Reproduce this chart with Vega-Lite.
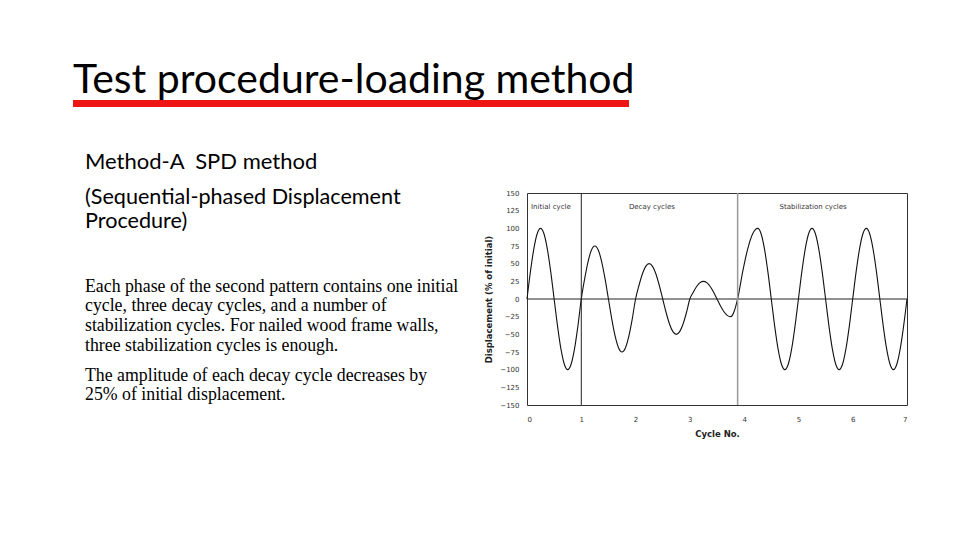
{
  "$schema": "https://vega.github.io/schema/vega-lite/v6.json",
  "background": "white",
  "padding": {"left": 73, "top": 59, "right": 5, "bottom": 5},
  "config": {"view": {"stroke": null}, "axis": {"labelOverlap": false, "labelBound": false}},
  "datasets": {
    "curve": [
      {"cycle": 0, "disp": 0}, {"cycle": 0.0625, "disp": 38.3}, {"cycle": 0.125, "disp": 70.7}, {"cycle": 0.1875, "disp": 92.4},
      {"cycle": 0.25, "disp": 100}, {"cycle": 0.3125, "disp": 92.4}, {"cycle": 0.375, "disp": 70.7}, {"cycle": 0.4375, "disp": 38.3},
      {"cycle": 0.5, "disp": 0}, {"cycle": 0.5625, "disp": -38.3}, {"cycle": 0.625, "disp": -70.7}, {"cycle": 0.6875, "disp": -92.4},
      {"cycle": 0.75, "disp": -100}, {"cycle": 0.8125, "disp": -92.4}, {"cycle": 0.875, "disp": -70.7}, {"cycle": 0.9375, "disp": -38.3},
      {"cycle": 1, "disp": 0}, {"cycle": 1.0625, "disp": 28.7}, {"cycle": 1.125, "disp": 53}, {"cycle": 1.1875, "disp": 69.3},
      {"cycle": 1.25, "disp": 75}, {"cycle": 1.3125, "disp": 69.3}, {"cycle": 1.375, "disp": 53}, {"cycle": 1.4375, "disp": 28.7},
      {"cycle": 1.5, "disp": 0}, {"cycle": 1.5625, "disp": -28.7}, {"cycle": 1.625, "disp": -53}, {"cycle": 1.6875, "disp": -69.3},
      {"cycle": 1.75, "disp": -75}, {"cycle": 1.8125, "disp": -69.3}, {"cycle": 1.875, "disp": -53}, {"cycle": 1.9375, "disp": -28.7},
      {"cycle": 2, "disp": 0}, {"cycle": 2.0625, "disp": 19.1}, {"cycle": 2.125, "disp": 35.4}, {"cycle": 2.1875, "disp": 46.2},
      {"cycle": 2.25, "disp": 50}, {"cycle": 2.3125, "disp": 46.2}, {"cycle": 2.375, "disp": 35.4}, {"cycle": 2.4375, "disp": 19.1},
      {"cycle": 2.5, "disp": 0}, {"cycle": 2.5625, "disp": -19.1}, {"cycle": 2.625, "disp": -35.4}, {"cycle": 2.6875, "disp": -46.2},
      {"cycle": 2.75, "disp": -50}, {"cycle": 2.8125, "disp": -46.2}, {"cycle": 2.875, "disp": -35.4}, {"cycle": 2.9375, "disp": -19.1},
      {"cycle": 3, "disp": 0}, {"cycle": 3.0625, "disp": 9.6}, {"cycle": 3.125, "disp": 17.7}, {"cycle": 3.1875, "disp": 23.1},
      {"cycle": 3.25, "disp": 25}, {"cycle": 3.3125, "disp": 23.1}, {"cycle": 3.375, "disp": 17.7}, {"cycle": 3.4375, "disp": 9.6},
      {"cycle": 3.5, "disp": 0}, {"cycle": 3.5625, "disp": -9.6}, {"cycle": 3.625, "disp": -17.7}, {"cycle": 3.6875, "disp": -23.1},
      {"cycle": 3.75, "disp": -25}, {"cycle": 3.7825, "disp": -23.1}, {"cycle": 3.815, "disp": -17.7}, {"cycle": 3.8475, "disp": -9.6},
      {"cycle": 3.88, "disp": 0}, {"cycle": 3.9725, "disp": 38.3}, {"cycle": 4.065, "disp": 70.7}, {"cycle": 4.1575, "disp": 92.4},
      {"cycle": 4.25, "disp": 100}, {"cycle": 4.3125, "disp": 92.4}, {"cycle": 4.375, "disp": 70.7}, {"cycle": 4.4375, "disp": 38.3},
      {"cycle": 4.5, "disp": 0}, {"cycle": 4.5625, "disp": -38.3}, {"cycle": 4.625, "disp": -70.7}, {"cycle": 4.6875, "disp": -92.4},
      {"cycle": 4.75, "disp": -100}, {"cycle": 4.8125, "disp": -92.4}, {"cycle": 4.875, "disp": -70.7}, {"cycle": 4.9375, "disp": -38.3},
      {"cycle": 5, "disp": 0}, {"cycle": 5.0625, "disp": 38.3}, {"cycle": 5.125, "disp": 70.7}, {"cycle": 5.1875, "disp": 92.4},
      {"cycle": 5.25, "disp": 100}, {"cycle": 5.3125, "disp": 92.4}, {"cycle": 5.375, "disp": 70.7}, {"cycle": 5.4375, "disp": 38.3},
      {"cycle": 5.5, "disp": 0}, {"cycle": 5.5625, "disp": -38.3}, {"cycle": 5.625, "disp": -70.7}, {"cycle": 5.6875, "disp": -92.4},
      {"cycle": 5.75, "disp": -100}, {"cycle": 5.8125, "disp": -92.4}, {"cycle": 5.875, "disp": -70.7}, {"cycle": 5.9375, "disp": -38.3},
      {"cycle": 6, "disp": 0}, {"cycle": 6.0625, "disp": 38.3}, {"cycle": 6.125, "disp": 70.7}, {"cycle": 6.1875, "disp": 92.4},
      {"cycle": 6.25, "disp": 100}, {"cycle": 6.3125, "disp": 92.4}, {"cycle": 6.375, "disp": 70.7}, {"cycle": 6.4375, "disp": 38.3},
      {"cycle": 6.5, "disp": 0}, {"cycle": 6.5625, "disp": -38.3}, {"cycle": 6.625, "disp": -70.7}, {"cycle": 6.6875, "disp": -92.4},
      {"cycle": 6.75, "disp": -100}, {"cycle": 6.8125, "disp": -92.4}, {"cycle": 6.875, "disp": -70.7}, {"cycle": 6.9375, "disp": -38.3},
      {"cycle": 7, "disp": 0}
    ],
    "phases": [
      {"cycle": 0.44, "disp": 130, "label": "Initial cycle"},
      {"cycle": 2.3, "disp": 130, "label": "Decay cycles"},
      {"cycle": 5.27, "disp": 130, "label": "Stabilization cycles"}
    ]
  },
  "spacing": 86,
  "bounds": "flush",
  "vconcat": [
    {
      "width": 556,
      "height": 7,
      "title": {"text": "Test procedure-loading method", "anchor": "start", "baseline": "alphabetic", "offset": -36, "font": "Lato", "fontSize": 41, "fontWeight": "normal", "color": "#000000"},
      "view": {"fill": "#ee1515", "stroke": null},
      "data": {"values": [{"t": ""}]},
      "mark": {"type": "text"},
      "encoding": {"text": {"field": "t"}}
    },
    {
      "spacing": 454,
      "bounds": "flush",
      "hconcat": [
        {
          "spacing": 76.5,
          "bounds": "flush",
          "vconcat": [
            {
              "width": 24,
              "height": 22,
              "title": {"text": "Method-A\u00a0 SPD method", "anchor": "start", "baseline": "alphabetic", "offset": -4, "dx": 12, "font": "Lato", "fontSize": 22, "fontWeight": "normal", "color": "#000000"},
              "data": {"values": [{"text": "(Sequential-phased Displacement\nProcedure)"}]},
              "mark": {"type": "text", "align": "left", "baseline": "alphabetic", "lineBreak": "\n", "lineHeight": 23.5, "font": "Lato", "fontSize": 21.6, "color": "#000000"},
              "encoding": {"text": {"field": "text"}}
            },
            {
              "width": 24,
              "height": 89,
              "data": {"values": [
                {"para": 1, "text": "Each phase of the second pattern contains one initial\ncycle, three decay cycles, and a number of\nstabilization cycles. For nailed wood frame walls,\nthree stabilization cycles is enough."},
                {"para": 2, "text": "The amplitude of each decay cycle decreases by\n25% of initial displacement."}
              ]},
              "mark": {"type": "text", "align": "left", "baseline": "alphabetic", "lineBreak": "\n", "lineHeight": 19.7, "font": "Liberation Serif", "fontSize": 17.8, "color": "#000000"},
              "encoding": {
                "y": {"field": "para", "type": "ordinal", "axis": null, "scale": {"type": "point", "padding": 0}},
                "text": {"field": "text"}
              }
            }
          ]
        },
        {
          "width": 380,
          "height": 212,
          "view": {"stroke": "#333333", "strokeWidth": 1},
          "encoding": {
            "x": {"field": "cycle", "type": "quantitative", "scale": {"domain": [0, 7], "nice": false},
              "axis": {"title": "Cycle No.", "values": [0, 1, 2, 3, 4, 5, 6, 7], "format": "d", "grid": false, "ticks": false, "domain": false, "labelPadding": 10, "labelFont": "DejaVu Sans", "labelFontSize": 7, "labelColor": "#333333", "titleFont": "DejaVu Sans", "titleFontSize": 8.5, "titleFontWeight": "bold", "titleColor": "#222222", "titlePadding": 7}},
            "y": {"field": "disp", "type": "quantitative", "scale": {"domain": [-150, 150], "nice": false},
              "axis": {"title": "Displacement (% of initial)", "values": [-150, -125, -100, -75, -50, -25, 0, 25, 50, 75, 100, 125, 150], "format": "d", "grid": false, "ticks": false, "domain": false, "labelPadding": 8, "labelFont": "DejaVu Sans", "labelFontSize": 7, "labelColor": "#333333", "titleFont": "DejaVu Sans", "titleFontSize": 8.5, "titleFontWeight": "bold", "titleColor": "#222222", "titlePadding": 6}}
          },
          "layer": [
            {
              "data": {"name": "curve"},
              "mark": {"type": "line", "color": "#111111", "strokeWidth": 1.1, "interpolate": "monotone"}
            },
            {
              "data": {"values": [{"disp": 0}]},
              "mark": {"type": "rule", "color": "#222222", "strokeWidth": 1},
              "encoding": {"x": null}
            },
            {
              "data": {"values": [{"cycle": 1}]},
              "mark": {"type": "rule", "color": "#222222", "strokeWidth": 1},
              "encoding": {"y": null}
            },
            {
              "data": {"values": [{"cycle": 3.88}]},
              "mark": {"type": "rule", "color": "#999999", "strokeWidth": 1.5},
              "encoding": {"y": null}
            },
            {
              "data": {"name": "phases"},
              "mark": {"type": "text", "font": "DejaVu Sans", "fontSize": 7, "color": "#333333", "align": "center", "baseline": "middle"},
              "encoding": {"text": {"field": "label"}}
            }
          ]
        }
      ]
    }
  ]
}
